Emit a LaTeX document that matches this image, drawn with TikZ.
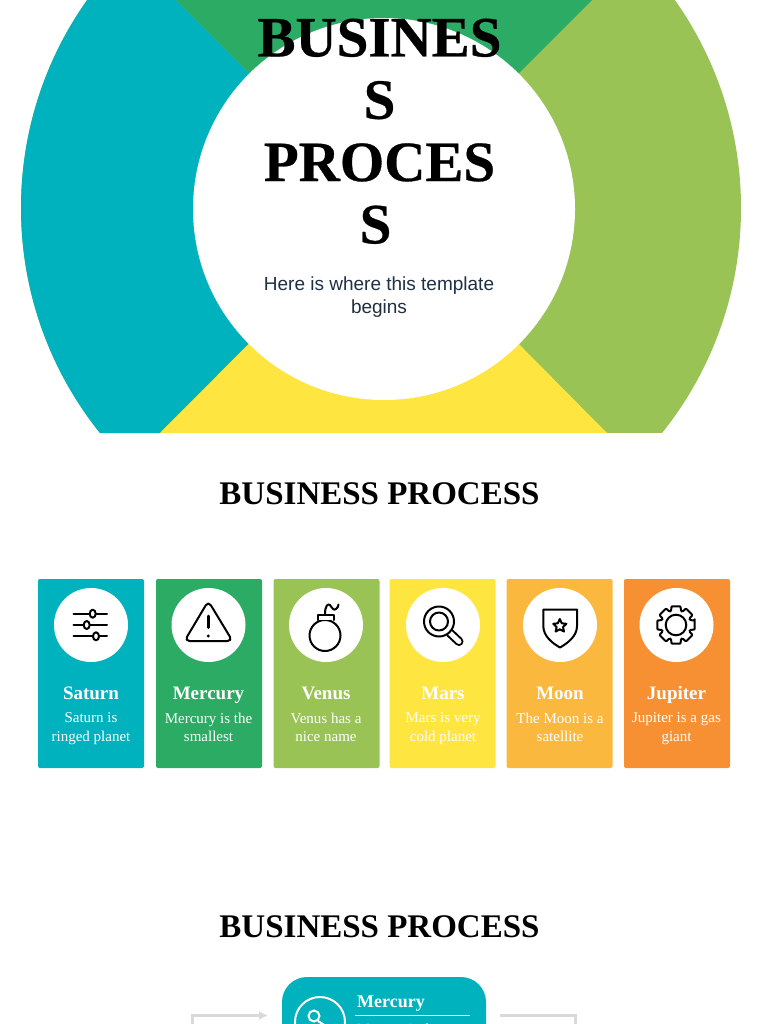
\documentclass[tikz,border=0pt]{standalone}
\usepackage{fontspec}
\setmainfont{Liberation Serif}
\newfontfamily\sansf{Liberation Sans}
\newfontfamily\heavyf[FakeBold=0.5]{Liberation Serif Bold}
\usetikzlibrary{arrows.meta}
\definecolor{cteal}{HTML}{00B2BD}
\definecolor{cgreen}{HTML}{2CAB65}
\definecolor{clime}{HTML}{9AC355}
\definecolor{cyellow}{HTML}{FFE53F}
\definecolor{camber}{HTML}{FBB83F}
\definecolor{corange}{HTML}{F79033}
\definecolor{cnavy}{HTML}{1F3044}
\definecolor{cgray}{HTML}{D9D9D9}
\tikzset{
  cardbox/.style={fill=#1,draw=none,rounded corners=2pt,minimum width=106pt,minimum height=189pt,inner sep=0pt},
  disc/.style={fill=white,draw=none,circle,minimum size=74pt,inner sep=0pt},
  cardtitle/.style={text=white,anchor=base,inner sep=0pt,font=\fontsize{19}{19}\selectfont\bfseries},
  cardbody/.style={text=white,anchor=north,inner sep=0pt,align=center,font=\fontsize{15}{18.5}\selectfont},
  heading/.style={anchor=base,inner sep=0pt,font=\fontsize{33}{33}\selectfont\bfseries},
  icon/.style={draw=black,line width=2pt,line cap=round,line join=round},
  flow/.style={draw=cgray,line width=3pt}
}
\begin{document}
\begin{tikzpicture}[x=1pt,y=-1pt]
\useasboundingbox (0,0) rectangle (768,1024);
\clip (0,0) rectangle (768,1024);
% ring
\begin{scope}
  \clip (0,0) rectangle (768,433);
  \clip (381,208) circle[radius=360];
  \fill[clime] (0,0) rectangle (768,433);
  \fill[cteal] (384,208) -- (-100,-276) -- (-100,433) -- (160,433) -- cycle;
  \fill[cgreen] (384,208) -- (-100,-276) -- (868,-276) -- cycle;
  \fill[cyellow] (384,208) -- (160,433) -- (607,433) -- cycle;
\end{scope}
\node[fill=white,circle,minimum size=382pt,inner sep=0pt] (hub) at (384,209) {};
\node[anchor=north,inner sep=0pt,align=center,font=\heavyf\fontsize{57}{62.3}\selectfont] (maintitle) at (379.5,18.5)
  {BUSINES\\S\\PROCES\\S\hspace*{8pt}};
\node[anchor=north,inner sep=0pt,align=center,text=cnavy,font=\sansf\fontsize{19}{23}\selectfont] (subtitle) at (379,276.5)
  {Here is where this template\\begins};
\node[heading] (h1) at (379.5,504) {BUSINESS PROCESS};
\node[heading] (h2) at (379.5,937) {BUSINESS PROCESS};
% cards
\node[cardbox=cteal]   (c1) at (91,673.5) {};
\node[cardbox=cgreen]  (c2) at (209,673.5) {};
\node[cardbox=clime]   (c3) at (326.5,673.5) {};
\node[cardbox=cyellow] (c4) at (442.5,673.5) {};
\node[cardbox=camber]  (c5) at (559.5,673.5) {};
\node[cardbox=corange] (c6) at (677,673.5) {};
\node[disc] (d1) at (91,625) {};
\node[disc] (d2) at (208.5,625) {};
\node[disc] (d3) at (326,625) {};
\node[disc] (d4) at (443,625) {};
\node[disc] (d5) at (560,625) {};
\node[disc] (d6) at (676.5,625) {};
\node[cardtitle] (t1) at (91,699) {Saturn};
\node[cardtitle] (t2) at (208.5,699) {Mercury};
\node[cardtitle] (t3) at (326,699) {Venus};
\node[cardtitle] (t4) at (443,699) {Mars};
\node[cardtitle] (t5) at (560,699) {Moon};
\node[cardtitle] (t6) at (676.5,699) {Jupiter};
\node[cardbody] (b1) at (91,712.5) {Saturn is\\ringed planet};
\node[cardbody] (b2) at (208.5,712.5) {Mercury is the\\smallest};
\node[cardbody] (b3) at (326,712.5) {Venus has a\\nice name};
\node[cardbody] (b4) at (443,712.5) {Mars is very\\cold planet};
\node[cardbody] (b5) at (560,712.5) {The Moon is a\\satellite};
\node[cardbody] (b6) at (676.5,712.5) {Jupiter is a gas\\giant};
% sliders
\draw[icon] (73.5,613.7) -- (107,613.7) (73.5,625) -- (107,625) (73.5,636.3) -- (107,636.3);
\draw[icon,fill=white] (92.7,613.7) ellipse[x radius=3,y radius=4];
\draw[icon,fill=white] (86.7,625) ellipse[x radius=3,y radius=4];
\draw[icon,fill=white] (96,636.3) ellipse[x radius=3,y radius=4];
% warning
\draw[icon,rounded corners=5pt] (208.3,601) -- (232.5,641) -- (184.5,641) -- cycle;
\draw[black,line width=3pt,line cap=round] (208.3,616) -- (208.3,627.5);
\fill[black] (208.3,636) circle[radius=1.6];
% bomb
\draw[icon] (325,635.5) circle[radius=15.5];
\draw[icon,fill=white] (317.5,620) -- (317.5,614.5) -- (333.5,614.5) -- (333.5,620);
\draw[icon] (325,614) .. controls (325,606) and (328,603) .. (330,605) .. controls (332,608) and (334,611) .. (336,609) .. controls (338,608) and (338,606) .. (338.5,604.5);
% magnifier
\draw[black,line width=9pt,line cap=round] (450,633) -- (459,641.5);
\draw[white,line width=5pt,line cap=round] (450,633) -- (459,641.5);
\draw[icon,fill=white] (439,621.5) circle[radius=15];
\draw[icon] (439,621.5) circle[radius=9];
% shield
\draw[icon] (543.3,609.5) -- (577,609.5) -- (577,626) .. controls (577,636) and (568,643) .. (560,647.5) .. controls (552,643) and (543.3,636) .. (543.3,626) -- cycle;
\draw[icon] (559.8,619) -- (561.8,623.3) -- (566.4,623.8) -- (563,627) -- (564,631.6) -- (559.8,629.3) -- (555.6,631.6) -- (556.6,627) -- (553.2,623.8) -- (557.8,623.3) -- cycle;
% gear
\begin{scope}[shift={(676,625)}]
\draw[icon,rounded corners=1pt] (-14:19.3) \foreach \a in {0,45,...,315} { -- (\a-14:19.3) -- (\a+14:19.3) -- (\a+19:14.8) -- (\a+26:14.8) } -- cycle;
\draw[icon] (0,0) circle[radius=10.3];
\end{scope}
% bottom block
\node[fill=cteal,rounded corners=25pt,minimum width=204pt,minimum height=160pt,inner sep=0pt] (m) at (384,1057) {};
\draw[white,line width=2pt] (320,1022) circle[radius=25];
\draw[white,line width=2pt] (314,1016) circle[radius=5.5];
\draw[white,line width=2pt] (318,1021) -- (326,1026);
\node[cardtitle,anchor=base west,font=\fontsize{18}{18}\selectfont\bfseries] (mt) at (357,1007) {Mercury};
\coordinate (ml) at (355,1015);
\coordinate (mr) at (470,1015);
\draw[white,line width=1pt] (ml) -- (mr);
\node[text=white,anchor=base west,inner sep=0pt,font=\fontsize{14}{14}\selectfont] (mb) at (357,1033) {Mercury is the};
\coordinate (a1) at (192,1030);
\coordinate (a2) at (268,1015.5);
\coordinate (a3) at (500,1015.5);
\coordinate (a4) at (575,1030);
\draw[flow,-{Latex[length=9pt,width=9pt]}] (a1) |- (a2);
\draw[flow] (a3) -| (a4);
\end{tikzpicture}
\end{document}
